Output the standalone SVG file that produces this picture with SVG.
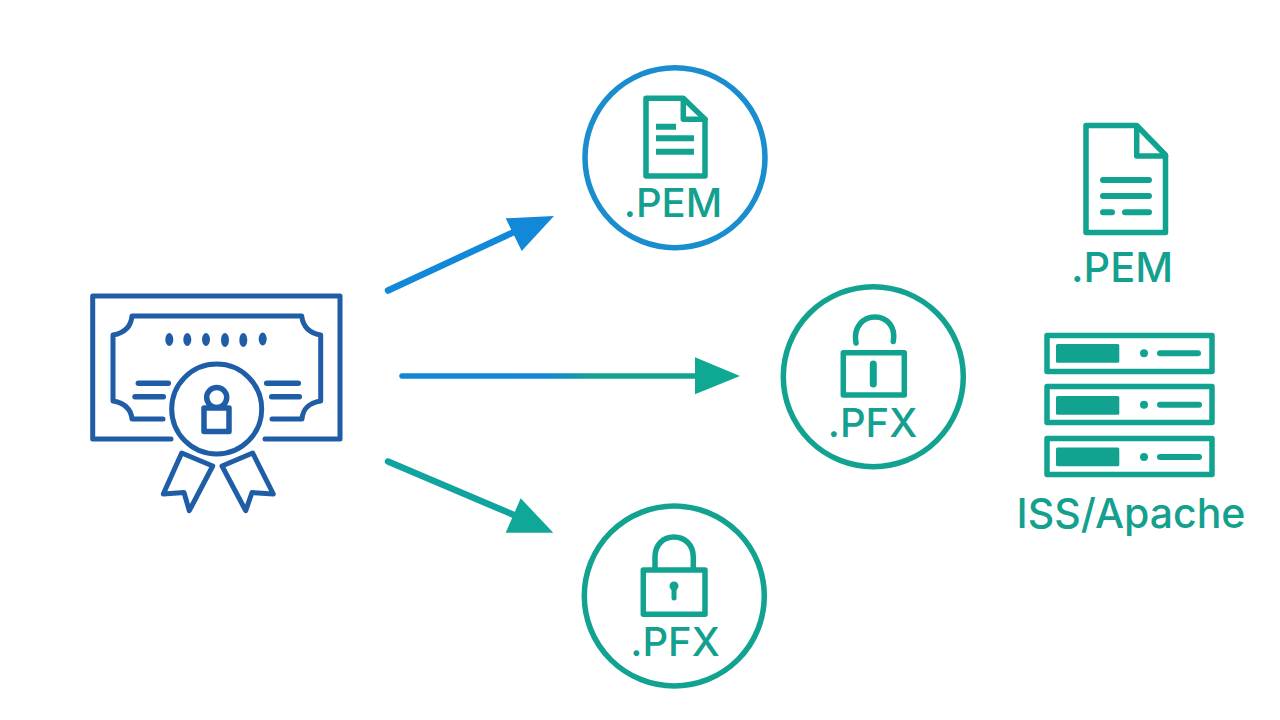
<svg xmlns="http://www.w3.org/2000/svg" width="1280" height="720" viewBox="0 0 1280 720">
<style>
.n{fill:none;stroke:#1f5da6;stroke-width:5;stroke-linecap:round;stroke-linejoin:round}
.nf{fill:#1f5da6}
.t{fill:none;stroke:#12a390;stroke-width:5.500;stroke-linecap:round;stroke-linejoin:round}
.tf{fill:#12a390}
.l{stroke-width:6}
.c{stroke-width:5.500}
.label{font-family:"Inter","Liberation Sans",sans-serif;fill:#14a08e;font-weight:500}
.conn{fill:none;stroke-width:6.500;stroke-linecap:round}
</style>
<defs>
<linearGradient id="g" gradientUnits="userSpaceOnUse" x1="401" y1="0" x2="695" y2="0">
<stop offset="0" stop-color="#1188d4"/><stop offset="0.5" stop-color="#1188d4"/><stop offset="0.65" stop-color="#12a390"/><stop offset="1" stop-color="#12a390"/>
</linearGradient>
</defs>
<rect width="1280" height="720" fill="#fff"/>
<g id="connectors">
<path class="conn" stroke="#1188d8" d="M388 290.5L514 232"/>
<polygon fill="#1188d8" points="505.7,218.3 554,216 521.7,251"/>
<path class="conn" stroke="url(#g)" d="M402 376H696" style="stroke-width:5.500"/>
<polygon fill="#0fa893" points="695,357.3 740,376 695,394.3"/>
<path class="conn" stroke="#0fa4a0" d="M388 461.5L514 515"/>
<polygon fill="#0fa896" points="520.7,498.3 553.3,532.7 505.7,532.7"/>
</g>
<g id="certificate">
<path class="n" d="M171 439H92.7V296H340V439H265"/>
<path class="n" d="M163 419H132C131 408 124 403 113 401V335C124 333 131 327 132 316H301.700C303 327 309 333 320.700 335V401C309 403 303 408 302 419H272"/>
<circle class="n" cx="216.700" cy="409" r="45"/>
<circle class="n" cx="216.700" cy="397.500" r="10" style="stroke-width:5.500"/>
<rect class="n" x="204" y="408" width="25" height="23.500" style="stroke-width:5.500"/>
<g class="nf">
<ellipse cx="169.300" cy="339.500" rx="4" ry="6.500"/><ellipse cx="187.300" cy="339.500" rx="4" ry="6.500"/><ellipse cx="206" cy="339.500" rx="4" ry="6.500"/><ellipse cx="225" cy="340" rx="4" ry="7"/><ellipse cx="243.300" cy="340" rx="4" ry="7"/><ellipse cx="262.700" cy="339" rx="4" ry="6.500"/>
</g>
<path class="n" style="stroke-width:5.500" d="M138.300 383.300H168.300M135 396.700H163.300M266.700 383.300H298.300M271.700 396.700H299.300"/>
<path class="n" d="M181.700 453L212.700 466L189.300 510.700L184 492.500L163.300 494Z"/>
<path class="n" d="M222 466L252.700 453L273.300 494L252 492.500L245.700 510.700Z"/>
</g>
<g id="pem-circle">
<circle class="t c" style="stroke:#1a8dcf" cx="675" cy="157.700" r="90"/>
<path class="t" d="M646 98.300H683.300L705 119.300V176H646Z"/>
<path class="t" d="M683.300 100V119.300H705"/>
<path class="t l" style="stroke-linecap:butt" d="M656 126.700H676M656 138.300H694M656 151.700H694"/>
<text class="label" x="673" y="216.700" text-anchor="middle" font-size="40">.PEM</text>
</g>
<g id="pfx-open">
<circle class="t c" cx="873.300" cy="376.700" r="90"/>
<path class="t" d="M856 343C853 327 863 317 875 317C887 317 896 327 893.300 341.500"/>
<rect class="t" x="843.300" y="352.700" width="61" height="42.300"/>
<path class="t" style="stroke-width:7" d="M873.300 364V384"/>
<text class="label" x="872.500" y="436.700" text-anchor="middle" font-size="40">.PFX</text>
</g>
<g id="pfx-closed">
<circle class="t c" cx="674.300" cy="596" r="90"/>
<path class="t" d="M655 569V557C655 545 663 537 674 537C685 537 693.300 545 693.300 557V569"/>
<rect class="t" x="643.300" y="570" width="61.700" height="44.300"/>
<circle class="tf" cx="674" cy="586" r="4.500"/>
<path class="t" style="stroke-width:5" d="M674 587V598"/>
<text class="label" x="675" y="655.700" text-anchor="middle" font-size="40">.PFX</text>
</g>
<g id="pem-file">
<path class="t" d="M1086 125.500H1136.700L1165.500 155V232.500H1086Z"/>
<path class="t" d="M1136.700 126V156H1165.500"/>
<path class="t l" d="M1103 180H1149M1103 196H1149M1103 212.300H1112M1125 212.300H1149"/>
<text class="label" x="1122" y="281.700" text-anchor="middle" font-size="41.500">.PEM</text>
</g>
<g id="server">
<rect class="t" x="1047" y="335.500" width="165" height="36"/>
<rect class="tf" x="1056" y="344" width="63.300" height="18.700" rx="1.500"/>
<circle class="tf" cx="1144" cy="353.300" r="4"/>
<path class="t l" d="M1160 353.300H1198"/>
<rect class="t" x="1047" y="386.500" width="165" height="36"/>
<rect class="tf" x="1056" y="396" width="63.300" height="18.700" rx="1.500"/>
<circle class="tf" cx="1144" cy="404.700" r="4"/>
<path class="t l" d="M1160 404.700H1199"/>
<rect class="t" x="1047" y="438.500" width="165" height="36"/>
<rect class="tf" x="1056" y="447.500" width="63.300" height="18.700" rx="1.500"/>
<circle class="tf" cx="1144" cy="457" r="4"/>
<path class="t l" d="M1160 457H1199"/>
<text class="label" x="1131" y="528.300" text-anchor="middle" font-size="41">ISS/Apache</text>
</g>
</svg>
